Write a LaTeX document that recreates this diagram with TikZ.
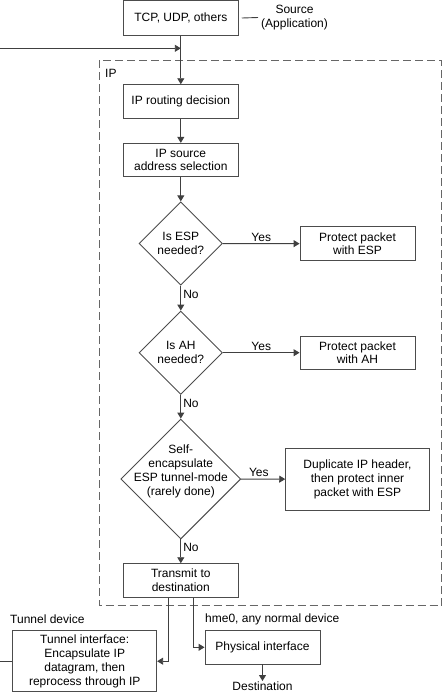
\documentclass[tikz,border=0pt]{standalone}
\usepackage{fontspec}
\setmainfont{Liberation Sans}
\usetikzlibrary{shapes.geometric,arrows.meta}
\tikzset{
	box/.style={draw=black!70, line width=0.9pt, fill=white, align=center, inner sep=2pt},
	decision/.style={diamond, draw=black!70, line width=0.9pt, align=center, inner sep=0pt},
	arr/.style={draw=black!75, line width=0.9pt, -{Triangle[width=7pt,length=6pt]}},
	link/.style={draw=black!75, line width=0.9pt},
}
\begin{document}
\begin{tikzpicture}[x=1pt,y=-1pt,font=\fontsize{12}{13.8}\selectfont]
				\useasboundingbox (0,0) rectangle (443,697);
				\draw[dash pattern=on 8pt off 4pt, draw=black!60, line width=0.9pt] (99,60.3) rectangle (441.5,605.7);
				\node[anchor=north west, inner sep=1pt] (iplbl) at (104,68) {IP};

				\node[box, minimum width=115pt, minimum height=35pt] (tcp) at (180.8,18) {TCP, UDP, others};
				\node[align=center, anchor=west, inner sep=3pt] (srclbl) at (258,17.5) {Source\\(Application)};
				\node[box, minimum width=115pt, minimum height=33.6pt] (route) at (180.8,101.5) {IP routing decision};
				\node[box, minimum width=115pt, minimum height=33.4pt] (srcsel) at (180.8,160) {IP source\\address selection};
				\node[decision, minimum width=83.4pt, minimum height=83.4pt] (esp) at (180.8,243.5) {Is ESP\\needed?};
				\node[box, minimum width=115pt, minimum height=34pt] (espbox) at (357.5,243.7) {Protect packet\\with ESP};
				\node[decision, minimum width=83.4pt, minimum height=83.4pt] (ah) at (180.8,352.7) {Is AH\\needed?};
				\node[box, minimum width=115pt, minimum height=33.3pt] (ahbox) at (357.5,352.7) {Protect packet\\with AH};
				\node[decision, minimum width=120pt, minimum height=120pt] (self) at (180.8,479) {};
				\node[align=center, inner sep=0pt] (selftxt) at (180.8,471.5) {Self-\\encapsulate\\ESP tunnel-mode\\(rarely done)};
				\node[box, minimum width=143.6pt, minimum height=61.7pt] (dupbox) at (357.5,479.2) {Duplicate IP header,\\then protect inner\\packet with ESP};
				\node[box, minimum width=115pt, minimum height=33.6pt] (xmit) at (180.8,580.5) {Transmit to\\destination};

				\node[anchor=west, inner sep=0pt] (tunlbl) at (10,619.3) {Tunnel device};
				\node[anchor=west, inner sep=0pt] (hmelbl) at (205,619.3) {hme0, any normal device};
				\node[box, minimum width=144pt, minimum height=61pt] (tunnel) at (84.7,661.2) {Tunnel interface:\\Encapsulate IP\\datagram, then\\reprocess through IP};
				\node[box, minimum width=115pt, minimum height=33.3pt] (phys) at (262.5,647.3) {Physical interface};
				\node[anchor=north, inner sep=1pt] (dest) at (262.5,681) {Destination};

				\coordinate (loopin) at (0,48.3);
				\coordinate (loopout) at (0,660);

				\draw[link] ([xshift=3pt]tcp.east) -- (srclbl.west);
				\draw[arr] (tcp) -- (route);
				\draw[arr] (loopin) -- (loopin -| tcp.south);
				\draw[arr] (route) -- (srcsel);
				\draw[arr] (srcsel) -- (esp);
				\draw[arr] (esp) -- node[above, inner sep=2pt] (yes1) {Yes} (espbox);
				\draw[arr] (esp) -- node[right, pos=0.35, inner sep=2pt] (no1) {No} (ah);
				\draw[arr] (ah) -- node[above, inner sep=2pt] (yes2) {Yes} (ahbox);
				\draw[arr] (ah) -- node[right, pos=0.35, inner sep=2pt] (no2) {No} (self);
				\draw[arr] (self) -- node[above, pos=0.4, inner sep=2pt] (yes3) {Yes} (dupbox);
				\draw[arr] (self) -- node[right, pos=0.35, inner sep=2pt] (no3) {No} (xmit);
				\draw[arr] ([xshift=-12.5pt]xmit.south) |- (tunnel.east);
				\draw[arr] ([xshift=12.5pt]xmit.south) |- (phys.west);
				\draw[arr] (phys) -- (dest);
				\draw[link] (tunnel.west) -- (tunnel.west -| loopout);
\end{tikzpicture}
\end{document}
